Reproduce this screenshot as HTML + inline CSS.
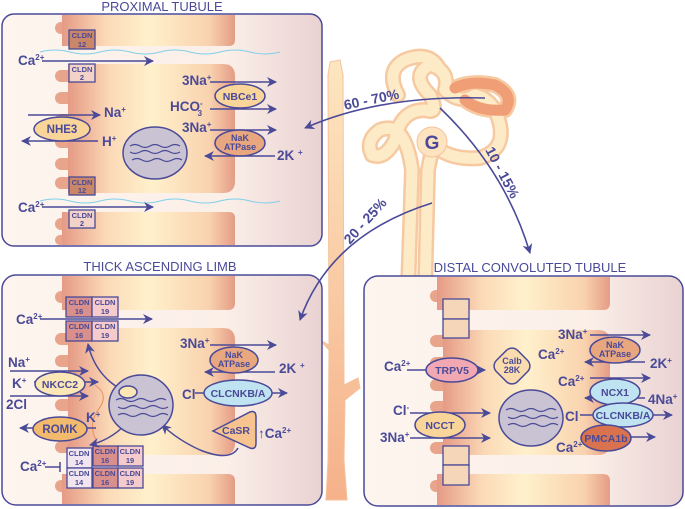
<!DOCTYPE html>
<html><head><meta charset="utf-8"><style>
body{margin:0;background:#fff}
svg{display:block}
text{font-family:"Liberation Sans",sans-serif;fill:#4a4a98;font-weight:bold}
.t{font-weight:normal;font-size:13px}
.l{font-size:13.5px}
.e{font-size:10.5px;text-anchor:middle}
.c{font-size:7.5px;text-anchor:middle}
</style></head><body>
<svg width="685" height="509" viewBox="0 0 685 509" xmlns="http://www.w3.org/2000/svg">
<defs>
<marker id="b" viewBox="0 0 10 10" refX="9" refY="5" markerWidth="10" markerHeight="10" orient="auto" markerUnits="userSpaceOnUse"><path d="M0,0 L10,5 L0,10 L3,5z" fill="#4a4a98"/></marker>
<linearGradient id="bg" x1="0" x2="1"><stop offset="0" stop-color="#fdf5ee"/><stop offset="0.7" stop-color="#fbefe8"/><stop offset="1" stop-color="#e9d2d2"/></linearGradient>
<linearGradient id="cell" x1="0" x2="1"><stop offset="0" stop-color="#e59a85"/><stop offset="0.25" stop-color="#fbd9b6"/><stop offset="0.5" stop-color="#fff1cc"/><stop offset="0.85" stop-color="#f9d2ae"/><stop offset="1" stop-color="#e49c86"/></linearGradient>
<linearGradient id="duct" x1="0" y1="0" x2="0" y2="1"><stop offset="0" stop-color="#fde6c0"/><stop offset="1" stop-color="#f5b18a"/></linearGradient>
</defs>

<!-- ===== nephron ===== -->
<g fill="none" stroke-linecap="round" stroke-linejoin="round">
<g stroke="#f7c9a0" stroke-width="16">
<path d="M408,290 L412,170 Q405,120 380,130 Q365,140 372,155 Q385,160 395,140 Q400,110 425,110 Q440,115 430,95 Q410,75 430,65 Q450,70 445,90 Q460,105 475,95 Q495,100 500,125 Q505,150 480,158 Q455,160 440,150"/>
<path d="M425,290 L428,170 L432,150"/>
<path d="M398,95 Q385,70 405,60 Q430,50 440,70"/>
<path d="M455,88 Q470,80 495,85 Q515,95 505,110 Q480,112 465,100"/>
</g>
<g stroke="#fdebc8" stroke-width="11">
<path d="M408,290 L412,170 Q405,120 380,130 Q365,140 372,155 Q385,160 395,140 Q400,110 425,110 Q440,115 430,95 Q410,75 430,65 Q450,70 445,90 Q460,105 475,95 Q495,100 500,125 Q505,150 480,158 Q455,160 440,150"/>
<path d="M425,290 L428,170 L432,150"/>
<path d="M398,95 Q385,70 405,60 Q430,50 440,70"/>
</g>
<path d="M455,88 Q470,80 495,85 Q515,95 505,110 Q480,112 465,100" stroke="#ef9e76" stroke-width="11"/>
</g>
<circle cx="432" cy="142" r="15" fill="#fde3c0" stroke="#f5c29a"/>
<text x="432" y="149" text-anchor="middle" style="font-size:19px">G</text>
<path d="M328,75 L330,62 L340,60 L343,75 L344,385 L358,378 L360,388 L345,400 L344,460 L347,500 L326,500 L328,460 L329,350 L320,340 L329,345 Z" fill="url(#duct)" stroke="#f5c29a"/>

<!-- ===== PROXIMAL TUBULE ===== -->
<text x="162" y="11" text-anchor="middle" class="t">PROXIMAL TUBULE</text>
<rect x="2" y="14" width="320" height="232" rx="12" fill="url(#bg)" stroke="#4a4a98" stroke-width="1.5"/>
<g fill="#e8a58c"><rect x="55" y="22" width="25" height="12" rx="6"/><rect x="55" y="70" width="25" height="12" rx="6"/><rect x="55" y="92" width="25" height="12" rx="6"/><rect x="55" y="114" width="25" height="12" rx="6"/><rect x="55" y="136" width="25" height="12" rx="6"/><rect x="55" y="158" width="25" height="12" rx="6"/><rect x="55" y="177" width="25" height="12" rx="6"/><rect x="55" y="218" width="25" height="12" rx="6"/><rect x="55" y="235" width="25" height="10" rx="5"/></g>
<g fill="url(#cell)">
<path d="M62,15 H235 V40 Q235,46 229,46 H62 Z"/>
<path d="M68,64 H223 Q235,64 235,76 V181 Q235,193 223,193 H68 Z"/>
<path d="M62,212 H229 Q235,212 235,218 V245 H62 Z"/>
</g>
<path d="M40,52 q15,-4 30,0 t30,0 t30,0 t30,0 t30,0 t30,0 t30,0 t30,0" fill="none" stroke="#7fd0ea" stroke-width="1"/>
<path d="M40,201 q15,-4 30,0 t30,0 t30,0 t30,0 t30,0 t30,0 t30,0 t30,0" fill="none" stroke="#7fd0ea" stroke-width="1"/>
<g stroke="#4a4a98" stroke-width="1.3">
<rect x="69" y="30" width="26" height="19" fill="#c98668"/><rect x="69" y="64" width="26" height="18" fill="#f3d3c8"/>
<rect x="69" y="177" width="26" height="18" fill="#c98668"/><rect x="69" y="210" width="26" height="18" fill="#f3d3c8"/>
</g>
<text class="c" x="82" y="38">CLDN</text><text class="c" x="82" y="47">12</text>
<text class="c" x="82" y="72">CLDN</text><text class="c" x="82" y="80">2</text>
<text class="c" x="82" y="185">CLDN</text><text class="c" x="82" y="193">12</text>
<text class="c" x="82" y="218">CLDN</text><text class="c" x="82" y="226">2</text>
<g stroke="#4a4a98" stroke-width="1.5" fill="none" marker-end="url(#b)">
<path d="M42,61 H153"/><path d="M42,207 H153"/>
<path d="M210,82 H276"/><path d="M210,109 H276"/><path d="M210,130 H276"/><path d="M275,156 H205"/>
<path d="M28,115 H100"/><path d="M98,141 H22"/>
</g>
<text class="l" x="18" y="65">Ca<tspan style="font-size:8px" dy="-5">2+</tspan></text>
<text class="l" x="18" y="212">Ca<tspan style="font-size:8px" dy="-5">2+</tspan></text>
<text class="l" x="182" y="85">3Na<tspan style="font-size:8px" dy="-5">+</tspan></text>
<text class="l" x="170" y="111">HCO<tspan style="font-size:8px" dy="-5">-</tspan><tspan style="font-size:8px" dx="-5" dy="10">3</tspan></text>
<text class="l" x="182" y="132">3Na<tspan style="font-size:8px" dy="-5">+</tspan></text>
<text class="l" x="277" y="160">2K <tspan style="font-size:8px" dy="-5">+</tspan></text>
<text class="l" x="104" y="117">Na<tspan style="font-size:8px" dy="-5">+</tspan></text>
<text class="l" x="102" y="146">H<tspan style="font-size:8px" dy="-5">+</tspan></text>
<g stroke="#4a4a98" stroke-width="1.5">
<ellipse cx="240" cy="96" rx="25" ry="12" fill="#f9d59a"/>
<ellipse cx="240" cy="143" rx="25" ry="13" fill="#e9a77f"/>
<ellipse cx="62" cy="129" rx="28" ry="12" fill="#f9d59a"/>
<ellipse cx="155" cy="153" rx="32" ry="26" fill="#c9c3d3"/>
</g>
<text class="e" x="240" y="100">NBCe1</text>
<text class="e" x="240" y="141" style="font-size:9px">NaK</text><text class="e" x="240" y="150" style="font-size:9px">ATPase</text>
<text class="e" x="62" y="133" style="font-size:11.5px">NHE3</text>
<g fill="none" stroke="#4a4a98" stroke-width="1.2">
<path d="M130,146 q5,-3 10,0 t10,0 t10,0 t10,0 t10,0"/><path d="M130,152 q5,3 10,0 t10,0 t10,0 t10,0 t10,0"/><path d="M132,160 q5,-3 10,0 t10,0 t10,0 t10,0 t10,0"/>
</g>

<!-- ===== THICK ASCENDING LIMB ===== -->
<text x="160" y="271" text-anchor="middle" class="t">THICK ASCENDING LIMB</text>
<rect x="2" y="275" width="320" height="230" rx="14" fill="url(#bg)" stroke="#4a4a98" stroke-width="1.5"/>
<g fill="#e8a58c"><rect x="55" y="291" width="25" height="12" rx="6"/><rect x="55" y="333" width="25" height="12" rx="6"/><rect x="55" y="355" width="25" height="12" rx="6"/><rect x="55" y="377" width="25" height="12" rx="6"/><rect x="55" y="399" width="25" height="12" rx="6"/><rect x="55" y="421" width="25" height="12" rx="6"/><rect x="55" y="441" width="25" height="12" rx="6"/><rect x="55" y="480" width="25" height="12" rx="6"/></g>
<g fill="url(#cell)">
<path d="M62,276 H235 V303 Q235,310 228,310 H62 Z"/>
<path d="M68,328 H223 Q235,328 235,340 V443 Q235,455 223,455 H68 Z"/>
<path d="M62,474 H228 Q235,474 235,481 V504 H62 Z"/>
</g>
<g stroke="#4a4a98" stroke-width="1.3">
<rect x="66" y="297" width="26" height="20" fill="#d98f8c"/><rect x="92" y="297" width="26" height="20" fill="#f5cbcb"/>
<rect x="66" y="321" width="26" height="20" fill="#d98f8c"/><rect x="92" y="321" width="26" height="20" fill="#f5cbcb"/>
<rect x="67" y="448" width="25" height="20" fill="#f1e6f0"/><rect x="93" y="446" width="25" height="20" fill="#d98f8c"/><rect x="118" y="446" width="25" height="20" fill="#f5cbcb"/>
<rect x="67" y="468" width="25" height="20" fill="#f1e6f0"/><rect x="93" y="468" width="25" height="20" fill="#d98f8c"/><rect x="118" y="468" width="25" height="20" fill="#f5cbcb"/>
</g>
<text class="c" x="79" y="305">CLDN</text><text class="c" x="79" y="314">16</text><text class="c" x="105" y="305">CLDN</text><text class="c" x="105" y="314">19</text>
<text class="c" x="79" y="329">CLDN</text><text class="c" x="79" y="338">16</text><text class="c" x="105" y="329">CLDN</text><text class="c" x="105" y="338">19</text>
<text class="c" x="79" y="456">CLDN</text><text class="c" x="79" y="465">14</text><text class="c" x="105" y="454">CLDN</text><text class="c" x="105" y="463">16</text><text class="c" x="130" y="454">CLDN</text><text class="c" x="130" y="463">19</text>
<text class="c" x="79" y="476">CLDN</text><text class="c" x="79" y="485">14</text><text class="c" x="105" y="476">CLDN</text><text class="c" x="105" y="485">16</text><text class="c" x="130" y="476">CLDN</text><text class="c" x="130" y="485">19</text>
<path d="M95,385 Q110,395 98,410 Q88,425 96,440" fill="none" stroke="#e8905e" stroke-width="1"/>
<g stroke="#4a4a98" stroke-width="1.5" fill="none" marker-end="url(#b)">
<path d="M40,319 H152"/>
<path d="M210,345 H276"/><path d="M275,372 H205"/><path d="M272,393 H287"/>
<path d="M10,371 H88"/><path d="M84,382 H98"/><path d="M10,396 H88"/>
<path d="M96,428 H20"/>
<path d="M122,390 Q95,375 88,344"/>
<path d="M125,425 Q110,440 90,445"/>
<path d="M238,448 Q230,462 200,450 Q178,440 162,425"/>
</g>
<g stroke="#4a4a98" stroke-width="1.5"><path d="M195,393 H205"/><path d="M34,382 H40"/><path d="M45,467 H60 M60,462 V472"/></g>
<text class="l" x="16" y="324">Ca<tspan style="font-size:8px" dy="-5">2+</tspan></text>
<text class="l" x="180" y="348">3Na<tspan style="font-size:8px" dy="-5">+</tspan></text>
<text class="l" x="279" y="373">2K <tspan style="font-size:8px" dy="-5">+</tspan></text>
<text class="l" x="182" y="399">Cl</text>
<text class="l" x="8" y="367">Na<tspan style="font-size:8px" dy="-5">+</tspan></text>
<text class="l" x="12" y="388">K<tspan style="font-size:8px" dy="-5">+</tspan></text>
<text class="l" x="6" y="409">2Cl</text>
<text class="l" x="86" y="422">K<tspan style="font-size:8px" dy="-5">+</tspan></text>
<text class="l" x="20" y="471">Ca<tspan style="font-size:8px" dy="-5">2+</tspan></text>
<text class="l" x="258" y="438">↑Ca<tspan style="font-size:8px" dy="-5">2+</tspan></text>
<g stroke="#4a4a98" stroke-width="1.5">
<ellipse cx="234" cy="360" rx="24" ry="13" fill="#e9a77f"/>
<ellipse cx="238" cy="393" rx="34" ry="13" fill="#bfe3f0"/>
<ellipse cx="60" cy="384" rx="25" ry="12" fill="#fbe6b6"/>
<ellipse cx="60" cy="429" rx="27" ry="12" fill="#f3b96c"/>
<path d="M213,431 L250,412 Q256,410 256,417 V443 Q256,450 250,448 Z" fill="#f7c48f"/>
<ellipse cx="141" cy="405" rx="32" ry="30" fill="#c9c3d3"/>
<ellipse cx="128" cy="392" rx="9" ry="6" fill="#fbe6b6"/>
</g>
<text class="e" x="234" y="358" style="font-size:9px">NaK</text><text class="e" x="234" y="367" style="font-size:9px">ATPase</text>
<text class="e" x="238" y="397">CLCNKB/A</text>
<text class="e" x="60" y="388">NKCC2</text>
<text class="e" x="60" y="433" style="font-size:11.5px">ROMK</text>
<text class="e" x="236" y="434">CaSR</text>
<g fill="none" stroke="#4a4a98" stroke-width="1.2">
<path d="M116,400 q5,-3 10,0 t10,0 t10,0 t10,0 t10,0"/><path d="M118,407 q5,3 10,0 t10,0 t10,0 t10,0 t10,0"/><path d="M118,415 q5,-3 10,0 t10,0 t10,0 t10,0 t10,0"/>
</g>

<!-- ===== DISTAL CONVOLUTED TUBULE ===== -->
<text x="530" y="272" text-anchor="middle" class="t">DISTAL CONVOLUTED TUBULE</text>
<rect x="364" y="276" width="319" height="230" rx="14" fill="url(#bg)" stroke="#4a4a98" stroke-width="1.5"/>
<g fill="#e8a58c"><rect x="430" y="290" width="25" height="12" rx="6"/><rect x="430" y="335" width="25" height="12" rx="6"/><rect x="430" y="357" width="25" height="12" rx="6"/><rect x="430" y="379" width="25" height="12" rx="6"/><rect x="430" y="401" width="25" height="12" rx="6"/><rect x="430" y="423" width="25" height="12" rx="6"/><rect x="430" y="442" width="25" height="12" rx="6"/><rect x="430" y="480" width="25" height="12" rx="6"/></g>
<g fill="url(#cell)">
<path d="M437,277 H610 V303 Q610,310 603,310 H437 Z"/>
<path d="M443,330 H598 Q610,330 610,342 V443 Q610,455 598,455 H443 Z"/>
<path d="M437,474 H603 Q610,474 610,481 V505 H437 Z"/>
</g>
<g stroke="#4a4a98" stroke-width="1.3" fill="#f6d6b8">
<rect x="443" y="299" width="26" height="20"/><rect x="443" y="319" width="26" height="19"/>
<rect x="443" y="446" width="26" height="19"/><rect x="443" y="465" width="26" height="20"/>
</g>
<g stroke="#4a4a98" stroke-width="1.5" fill="none" marker-end="url(#b)">
<path d="M407,370 H485"/>
<path d="M590,335 H650"/><path d="M645,362 H585"/>
<path d="M590,378 H650"/><path d="M645,398 H585"/>
<path d="M653,415 H672"/><path d="M631,437 H655"/>
<path d="M410,413 H490"/><path d="M410,438 H490"/>
</g>
<g stroke="#4a4a98" stroke-width="1.5"><path d="M580,415 H593"/></g>
<text class="l" x="384" y="371">Ca<tspan style="font-size:8px" dy="-5">2+</tspan></text>
<text class="l" x="538" y="359">Ca<tspan style="font-size:8px" dy="-5">2+</tspan></text>
<text class="l" x="558" y="339">3Na<tspan style="font-size:8px" dy="-5">+</tspan></text>
<text class="l" x="650" y="368">2K<tspan style="font-size:8px" dy="-5">+</tspan></text>
<text class="l" x="558" y="386">Ca<tspan style="font-size:8px" dy="-5">2+</tspan></text>
<text class="l" x="648" y="404">4Na<tspan style="font-size:8px" dy="-5">+</tspan></text>
<text class="l" x="565" y="421">Cl</text>
<text class="l" x="556" y="452">Ca<tspan style="font-size:8px" dy="-5">2+</tspan></text>
<text class="l" x="393" y="415">Cl<tspan style="font-size:8px" dy="-5">-</tspan></text>
<text class="l" x="380" y="442">3Na<tspan style="font-size:8px" dy="-5">+</tspan></text>
<g stroke="#4a4a98" stroke-width="1.5">
<ellipse cx="452" cy="370" rx="26" ry="12" fill="#f1a8b3"/>
<rect x="497" y="351" width="30" height="30" rx="8" transform="rotate(45 512 366)" fill="#fbdcae"/>
<ellipse cx="615" cy="350" rx="25" ry="13" fill="#e9a77f"/>
<ellipse cx="615" cy="392" rx="25" ry="13" fill="#bfe3f0"/>
<ellipse cx="623" cy="415" rx="30" ry="12" fill="#bfe3f0"/>
<ellipse cx="606" cy="438" rx="25" ry="13" fill="#d9734f"/>
<ellipse cx="440" cy="425" rx="25" ry="13" fill="#f9d59a"/>
<ellipse cx="531" cy="418" rx="32" ry="28" fill="#c9c3d3"/>
</g>
<text class="e" x="452" y="374">TRPV5</text>
<text class="e" x="512" y="364" style="font-size:9px">Calb</text><text class="e" x="512" y="373" style="font-size:9px">28K</text>
<text class="e" x="615" y="348" style="font-size:9px">NaK</text><text class="e" x="615" y="357" style="font-size:9px">ATPase</text>
<text class="e" x="615" y="396">NCX1</text>
<text class="e" x="623" y="419">CLCNKB/A</text>
<text class="e" x="606" y="442">PMCA1b</text>
<text class="e" x="440" y="429">NCCT</text>
<g fill="none" stroke="#4a4a98" stroke-width="1.2">
<path d="M506,410 q5,-3 10,0 t10,0 t10,0 t10,0 t10,0"/><path d="M508,417 q5,3 10,0 t10,0 t10,0 t10,0 t10,0"/><path d="M508,425 q5,-3 10,0 t10,0 t10,0 t10,0 t10,0"/>
</g>

<!-- ===== percentage arrows ===== -->
<g stroke="#4a4a98" stroke-width="1.6" fill="none" marker-end="url(#b)">
<path d="M485,98 Q380,95 305,128"/>
<path d="M440,108 Q505,170 530,253"/>
<path d="M432,203 Q330,235 300,320"/>
</g>
<text x="345" y="110" transform="rotate(-12 345 110)" style="font-size:14px">60 - 70%</text>
<text x="485" y="150" transform="rotate(62 485 150)" style="font-size:14px">10 - 15%</text>
<text x="350" y="245" transform="rotate(-48 350 245)" style="font-size:14px">20 - 25%</text>
</svg>
</body></html>
